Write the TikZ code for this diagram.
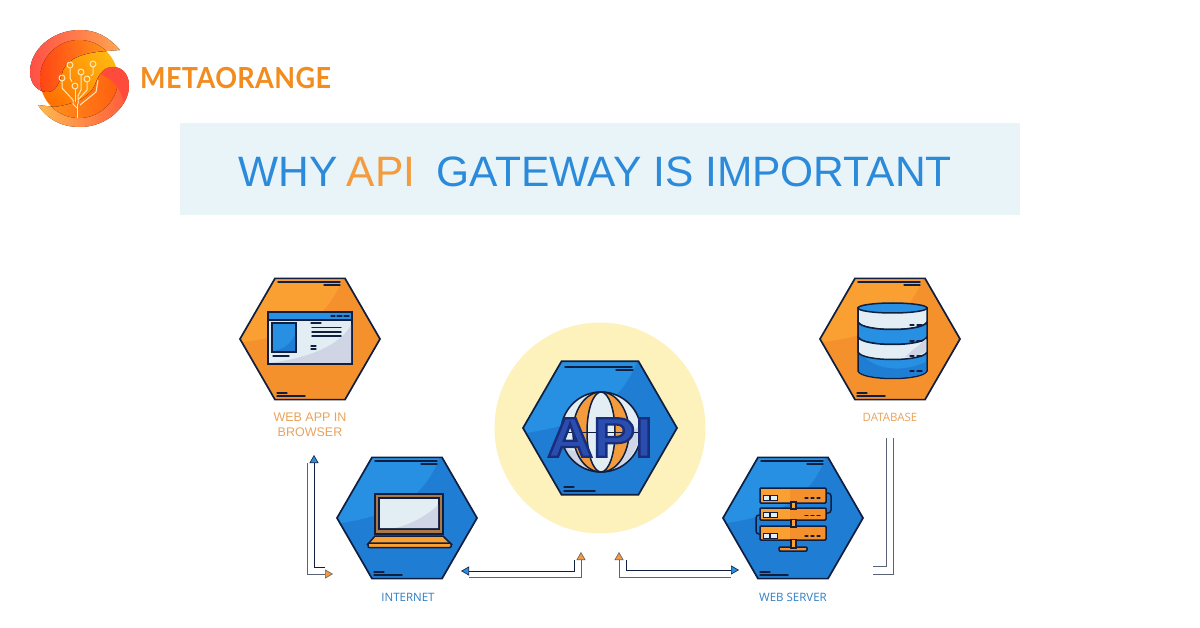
\documentclass[tikz,border=0pt]{standalone}
\usepackage{fontspec}
\setmainfont{Liberation Sans}
\newfontfamily\labelfont{Open Sans}
\newfontfamily\brandfont{Lato}
\usetikzlibrary{shapes.geometric,arrows.meta}
\definecolor{ink}{HTML}{101F3F}
\definecolor{orlight}{HTML}{FAA032}
\definecolor{ordark}{HTML}{F5912C}
\definecolor{bllight}{HTML}{2790E2}
\definecolor{bldark}{HTML}{1F7DD3}
\definecolor{screenlight}{HTML}{E2EEF4}
\definecolor{screendark}{HTML}{D0D5E6}
\definecolor{titleblue}{HTML}{2B8BDA}
\definecolor{titleorange}{HTML}{F39B3D}
\definecolor{labelorange}{HTML}{E9A35C}
\definecolor{labelblue}{HTML}{2F7FC4}
\definecolor{linegray}{HTML}{5A6278}
\definecolor{brandor}{HTML}{F28C1E}
\definecolor{framebrown}{HTML}{A9794A}
\definecolor{circuit}{HTML}{FFE9B8}
\definecolor{lobered}{HTML}{FF4B3C}
\tikzset{
  hexbase/.style={draw=ink,line width=1.7pt,regular polygon,regular polygon sides=6,inner sep=0pt,outer sep=0pt,minimum size=140pt},
  orhex/.style={hexbase,fill=ordark,path picture={
     \fill[orlight] (-90,5) .. controls (-10,0) and (20,-20) .. (36,-70) -- (-90,-70) -- cycle;}},
  blhex/.style={hexbase,fill=bldark,path picture={
     \fill[bllight] (-90,8) .. controls (-10,0) and (20,-20) .. (36,-70) -- (-90,-70) -- cycle;}},
  apihex/.style={hexbase,minimum size=154pt,fill=bldark,path picture={
     \fill[bllight] (-100,8) .. controls (-10,0) and (25,-25) .. (42,-80) -- (-100,-80) -- cycle;}},
  wire/.style={draw=ink,line width=1.5pt},
  detail/.style={draw=ink,line width=1.2pt,line cap=round},
  conn/.style={draw=ink,line width=1pt},
  grayconn/.style={draw=linegray,line width=1pt},
  tipor/.style={-{Triangle[length=8pt,width=9pt,fill=titleorange,line width=.6pt]}},
  tipbl/.style={-{Triangle[length=8pt,width=9pt,fill=bllight,line width=.6pt]}},
  capt/.style={inner sep=0pt,align=center,font=\labelfont\fontsize{11.5}{14}\selectfont},
  trace/.style={draw=circuit,line width=1pt,line join=round}
}
\newcommand{\hexmarks}[2]{%
  \begin{scope}[shift={(#1,#2)}]
    \draw[detail,line width=1.5pt] (-32,-57) -- (30,-57);
    \draw[detail] (14,-54) -- (30,-54);
    \draw[detail] (-33,54) -- (-23,54);
    \draw[detail,line width=1.5pt] (-33,57) -- (-5,57);
  \end{scope}}
\begin{document}
\begin{tikzpicture}[x=1pt,y=-1pt]
\useasboundingbox (0,0) rectangle (1200,628);
\fill[white] (0,0) rectangle (1200,628);

% ---- logo
\begin{scope}
  \def\upperpath{(120,50) .. controls (108,36) and (95,30) .. (80,30) .. controls (52,30) and (30,50) .. (30,72) .. controls (30,84) and (38,92) .. (47,92) .. controls (57,92) and (60,80) .. (63,70) .. controls (68,58) and (85,52) .. (107,51) -- cycle}
  \def\lowerpath{(38,105) .. controls (48,120) and (62,127) .. (80,127) .. controls (108,127) and (129,105) .. (129,86) .. controls (129,74) and (122,67) .. (113,67) .. controls (103,67) and (98,76) .. (95,85) .. controls (90,97) and (75,104) .. (55,107) -- cycle}
  \shade[top color={rgb,255:red,255;green,185;blue,16},bottom color={rgb,255:red,255;green,110;blue,0},shading angle=-50] (79,79) circle (39);
  \fill[left color={rgb,255:red,255;green,80;blue,70},right color={rgb,255:red,255;green,165;blue,80}] \upperpath;
  \fill[left color={rgb,255:red,255;green,185;blue,80},right color={rgb,255:red,255;green,90;blue,60}] \lowerpath;
  \begin{scope}
    \clip \upperpath;
    \fill[left color={rgb,255:red,255;green,70;blue,20},right color={rgb,255:red,255;green,160;blue,30}] (79,79) circle (39);
  \end{scope}
  \begin{scope}
    \clip \lowerpath;
    \fill[left color={rgb,255:red,255;green,150;blue,30},right color={rgb,255:red,255;green,95;blue,15}] (79,79) circle (39);
  \end{scope}
  \fill[lobered] (113,67) .. controls (122,67) and (129,74) .. (129,86) .. controls (129,92) and (127,98) .. (124,103) .. controls (122,90) and (112,78) .. (100,74) .. controls (103,69) and (108,67) .. (113,67) -- cycle;
  \draw[trace] (70,65) circle (3);
  \draw[trace] (93,64) circle (3);
  \draw[trace] (81,72) circle (3);
  \draw[trace] (62,78) circle (3);
  \draw[trace] (87,79) circle (3);
  \draw[trace] (75,86) circle (3);
  \draw[trace] (77,118) -- (77,104);
  \draw[trace] (70,68) -- (70,78) -- (72,82);
  \draw[trace] (62,81) -- (62,88) -- (73,100) -- (73,104) -- (77,108);
  \draw[trace] (75,89) -- (75,102);
  \draw[trace] (81,75) -- (81,90) -- (78,96) -- (78,104);
  \draw[trace] (93,67) -- (93,74) -- (91,76);
  \draw[trace] (87,82) -- (87,90) -- (78,100);
  \draw[trace] (98,80) -- (96,92) -- (80,105);
\end{scope}
\node[anchor=west,inner sep=0pt,text=brandor,xscale=.93] (brand) at (140,78) {\brandfont\fontsize{29}{32}\selectfont\addfontfeature{LetterSpace=1.5}\textbf{METAORANGE}};

% ---- title
\fill[fill={rgb,255:red,233;green,244;blue,249}] (180,123) rectangle (1020,215);
\node[inner sep=0pt,anchor=base west,text=titleblue] (title) at (238,187) {\fontsize{42.5}{48}\selectfont WHY\hspace{9.5pt}\textcolor{titleorange}{API}\hspace{21.5pt}GATEWAY IS IMPORTANT};

% ---- API halo and hexagons
\fill[fill={rgb,255:red,253;green,241;blue,188}] (600,428) circle (105.5);
\node[orhex] (webapp) at (310,339) {};
\node[orhex] (database) at (890,339) {};
\node[blhex] (internet) at (407,518) {};
\node[blhex] (webserver) at (793,518) {};
\node[apihex] (api) at (600,428) {};
\hexmarks{310}{339}
\hexmarks{890}{339}
\hexmarks{407}{518}
\hexmarks{793}{518}
\begin{scope}[shift={(600,428)}]
  \draw[detail,line width=1.5pt] (-35,-61) -- (32,-61);
  \draw[detail] (16,-58) -- (33,-58);
  \draw[detail] (-36,59) -- (-26,59);
  \draw[detail,line width=1.5pt] (-36,63) -- (-5,63);
\end{scope}

% ---- browser
\draw[wire,fill=screenlight] (268,312) rectangle (352,364);
\fill[screendark] (269,363) .. controls (310,358) and (340,345) .. (351,325) -- (351,363) -- cycle;
\draw[wire,fill=bllight] (268,312) rectangle (352,320);
\draw[wire,fill=bllight] (272,323) rectangle (296,352);
\fill[bldark] (295,335) .. controls (290,345) and (282,350) .. (273,351) -- (295,351) -- cycle;
\draw[detail] (273,356) -- (289,356);
\draw[detail] (311,323) -- (321,323);
\foreach \ly in {327.5,332,336} \draw[detail,line width=1.4pt] (312,\ly) -- (341,\ly);
\foreach \ly in {346,349} \draw[detail] (311,\ly) -- (316,\ly);
\foreach \lx/\rx in {331/335,337/342,344/349} \draw[detail] (\lx,316) -- (\rx,316);

% ---- database
\begin{scope}
  \draw[wire,fill=bllight] (858,362) -- (858,371) .. controls (862,381) and (923,381) .. (927,371) -- (927,308) -- (858,308) -- cycle;
  \draw[wire,fill=screenlight] (858,308) -- (858,322) .. controls (862,332) and (923,332) .. (927,322) -- (927,308) -- cycle;
  \fill[bldark] (859,352) -- (859,371) .. controls (863,380) and (922,380) .. (926,371) -- (926,362) .. controls (905,372) and (875,372) .. (859,352) -- cycle;
  \draw[wire,fill=bllight] (858,322) -- (858,337) .. controls (862,347) and (923,347) .. (927,337) -- (927,322) .. controls (923,332) and (862,332) .. (858,322) -- cycle;
  \draw[wire,fill=screenlight] (858,337) -- (858,352) .. controls (862,362) and (923,362) .. (927,352) -- (927,337) .. controls (923,347) and (862,347) .. (858,337) -- cycle;
  \fill[screendark] (905,357) .. controls (913,356) and (923,355) .. (926,351) -- (926,339) .. controls (920,345) and (912,350) .. (905,357) -- cycle;
  \draw[wire,fill=bllight] (892.5,308) ellipse (34.5 and 5);
  \foreach \dy in {325,341,356,371} {
    \draw[detail] (910,\dy) -- (914,\dy);
    \draw[detail] (917,\dy) -- (922,\dy);
  }
\end{scope}

% ---- laptop
\draw[wire,fill=framebrown] (375,494) rectangle (443,534);
\draw[wire,fill=screenlight] (379,498) rectangle (439,529);
\fill[screendark] (380,528) -- (438,528) -- (438,505) .. controls (428,515) and (410,525) .. (395,528) -- cycle;
\draw[wire,fill=orlight] (375,536) -- (443,536) -- (451,544) -- (368,544) -- cycle;
\draw[wire,fill=orlight,rounded corners=1pt] (368,543) rectangle (451,547.5);

% ---- server
\draw[wire,rounded corners=3pt] (760,515) -- (756,515) -- (756,534) -- (760,534);
\draw[wire,rounded corners=3pt] (826,493) -- (831,493) -- (831,513) -- (826,513);
\draw[wire,fill=orlight] (791,502) rectangle (796,548);
\draw[wire,fill=ordark,rounded corners=1pt] (779,547) rectangle (807,551);
\foreach \ry/\rb/\dy in {488/503/498,508/520/515.5,526/540/536} {
  \draw[wire,fill=ordark,rounded corners=1pt] (760,\ry) rectangle (826,\rb);
  \fill[orlight] (761,\ry+1) rectangle (790,\rb-1);
  \draw[wire,line width=.7pt,fill=screenlight] (763,\dy-3) rectangle (769.5,\dy+2);
  \draw[wire,line width=.7pt,fill=screenlight] (770.5,\dy-3) rectangle (777,\dy+2);
  \foreach \qx in {805,811,817} \draw[detail] (\qx,\dy) -- (\qx+3,\dy);
}
\draw[wire,fill=orlight] (791,502) rectangle (796,509);
\draw[wire,fill=orlight] (791,519.5) rectangle (796,527);
\draw[wire,fill=orlight] (791,539.5) rectangle (796,548);

% ---- globe
\fill[screenlight] (601,432) circle (40);
\fill[screendark] (565,448) .. controls (590,460) and (625,440) .. (640,425) .. controls (643,445) and (625,472) .. (601,472) .. controls (585,472) and (572,462) .. (565,448) -- cycle;
\draw[wire,fill=titleorange] (601,432) ellipse (28 and 40);
\draw[wire,fill=screenlight] (601,432) ellipse (14 and 40);
\draw[wire,line width=1pt] (561,432) -- (641,432);
\draw[wire,line width=1.6pt] (601,432) circle (40);
\node[inner sep=0pt,text={rgb,255:red,42;green,77;blue,176},xscale=1.13] (apitext) at (600,437.5)
  {\fontsize{56}{60}\selectfont\bfseries\special{pdf:code 2 Tr 2.2 w 0.10 0.18 0.48 RG}API\special{pdf:code 0 Tr}};

% ---- captions
\node[inner sep=0pt,align=center,text=labelorange,font=\fontsize{12.5}{15}\selectfont] (webapplabel) at (310,424.5) {WEB APP IN\\BROWSER};
\node[capt,text=labelorange] (dblabel) at (890,417.5) {DATABASE};
\node[capt,text=labelblue] (internetlabel) at (408,597) {INTERNET};
\node[capt,text=labelblue] (serverlabel) at (793,597) {WEB SERVER};

% ---- connector ends
\coordinate (a1s) at (307,463);  \coordinate (a1e) at (333,574);
\coordinate (a2s) at (325,567);  \coordinate (a2e) at (314,455);
\coordinate (b1s) at (574,560);  \coordinate (b1e) at (461,571);
\coordinate (b2s) at (469,577);  \coordinate (b2e) at (581,552);
\coordinate (c1s) at (731,577);  \coordinate (c1e) at (619,552);
\coordinate (c2s) at (626,560);  \coordinate (c2e) at (739,570);
\coordinate (d1s) at (893,438);  \coordinate (d1e) at (873,574);
\coordinate (d2s) at (886,438);  \coordinate (d2e) at (873,566);

\draw[grayconn,tipor] (a1s) |- (a1e);
\draw[conn,tipbl] (a2s) -| (a2e);
\draw[conn,tipbl] (b1s) |- (b1e);
\draw[grayconn,tipor] (b2s) -| (b2e);
\draw[grayconn,tipor] (c1s) -| (c1e);
\draw[conn,tipbl] (c2s) |- (c2e);
\draw[grayconn] (d1s) |- (d1e);
\draw[grayconn] (d2s) |- (d2e);
\end{tikzpicture}
\end{document}
